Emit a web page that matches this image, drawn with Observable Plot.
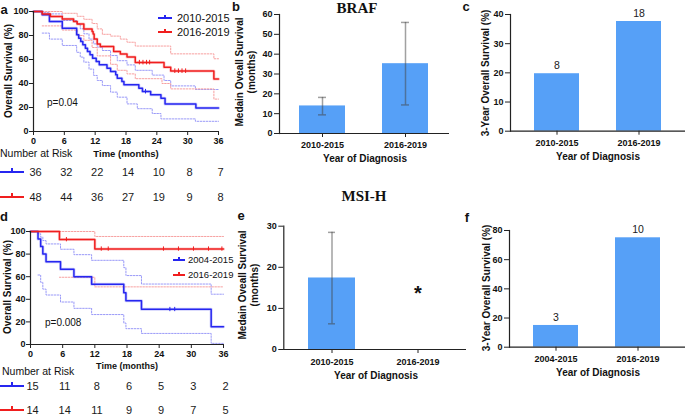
<!DOCTYPE html>
<html><head><meta charset="utf-8">
<script src="https://cdn.jsdelivr.net/npm/d3@7"></script>
<script src="https://cdn.jsdelivr.net/npm/@observablehq/plot@0.6"></script>
<style>
html,body{margin:0;padding:0;background:#fff;}
#fig{position:relative;width:685px;height:416px;overflow:hidden;font-family:"Liberation Sans",Arial,sans-serif;color:#111;background:#fff;}
#fig svg{position:absolute;overflow:visible;}
.t{position:absolute;white-space:nowrap;line-height:1;}
</style></head><body><div id="fig"></div>
<script>
// ---------------- data ----------------
const timeTicks = [0, 6, 12, 18, 24, 30, 36];
const survTicks = [0, 20, 40, 60, 80, 100];

// Panel a (BRAF) Kaplan-Meier
const brafGroups = ["2010-2015", "2016-2019"];
const brafEarlyT = [0, 1.7, 3.1, 5.6, 8.4, 8.8, 9.2, 9.6, 10.1, 10.5, 11.0, 11.5, 12.2, 12.8, 14.3, 15.0, 16.0, 16.3, 17.2, 17.6, 20.5, 21.2, 22.8, 24.8, 25.6, 31.6, 36];
const brafEarlyS = [100, 97.2, 91.7, 86.1, 80.6, 77.8, 75.0, 72.2, 69.4, 66.7, 63.9, 61.1, 58.3, 55.6, 52.8, 50.0, 47.2, 44.4, 41.7, 38.9, 36.1, 33.3, 30.6, 27.8, 22.9, 19.6, 19.6];
const brafEarlyUpT = [0, 1.7, 3.1, 5.6, 8.4, 9.1, 9.8, 10.8, 11.7, 12.4, 13.4, 15.0, 16.3, 18.2, 19.8, 23.1, 25.4, 26.7, 31.5, 36];
const brafEarlyUpS = [100, 99, 98, 92.5, 89.7, 85.6, 81.4, 77, 73, 70.3, 67.5, 63.3, 59, 55.5, 51, 47, 42.5, 38, 35, 35];
const brafEarlyLoT = [1.7, 3.1, 5.6, 8.4, 9.1, 9.8, 10.8, 11.7, 12.4, 13.4, 15.0, 16.3, 18.2, 20.2, 23.1, 24.8, 31.5, 36];
const brafEarlyLoS = [82, 77, 71.7, 66, 62, 57.8, 52, 46.7, 42.5, 38.3, 32.8, 28.6, 23, 19, 15, 10.5, 8.5, 8.5];
const brafLateT = [0, 1.7, 3.3, 5.6, 7.8, 8.5, 9.8, 11.4, 11.6, 11.8, 12.4, 13.0, 15.6, 16.9, 18.2, 19.8, 25.4, 26.7, 35.1, 36];
const brafLateS = [100, 97.9, 95.8, 93.8, 91.7, 89.6, 85.4, 83.3, 81.3, 77.1, 72.9, 70.8, 66.7, 64.6, 62.0, 57.5, 53.6, 50.4, 43.7, 43.7];
const brafLateUpT = [0, 5.6, 8.5, 9.8, 11.4, 12.4, 13.4, 15.0, 16.9, 18.2, 19.8, 26.7, 35.1, 36];
const brafLateUpS = [100, 98.5, 96, 93.5, 90, 85.5, 81, 79.5, 77, 74.4, 71.2, 64.7, 60.6, 60.6];
const brafLateLoT = [1.7, 5.6, 8.5, 9.8, 11.4, 12.4, 15.0, 16.3, 18.2, 19.8, 25.0, 26.7, 35.1, 36];
const brafLateLoS = [88, 84.5, 80, 76, 70, 63, 56, 51, 48, 44, 40, 35.5, 27, 27];
const brafEarlyCensor = [21.8];
const brafLateCensor = [20.6, 21.3, 22.0, 22.6, 27.5, 28.2, 28.9, 29.6];
const brafRiskEarly = [36, 32, 22, 14, 10, 8, 7];
const brafRiskLate = [48, 44, 36, 27, 19, 9, 8];

// Panel d (MSI-H) Kaplan-Meier
const msiGroups = ["2004-2015", "2016-2019"];
const msiEarlyT = [0, 1.4, 1.9, 2.3, 2.9, 5.6, 8.1, 11.4, 17.4, 17.8, 20.7, 33.7, 36];
const msiEarlyS = [100, 93.3, 86.7, 80, 73.3, 66.7, 60, 53.3, 45.7, 38.8, 31.1, 15.6, 15.6];
const msiEarlyUpT = [0, 1.4, 1.9, 2.3, 2.9, 5.6, 8.1, 11.4, 17.4, 17.8, 20.7, 33.7, 36];
const msiEarlyUpS = [100, 98, 95, 92, 89, 84.3, 79.5, 74.5, 68, 61, 53.5, 44.5, 44.5];
const msiEarlyLoT = [1.4, 1.9, 2.3, 2.9, 5.6, 8.1, 11.4, 17.4, 17.8, 20.7, 33.7, 36];
const msiEarlyLoS = [61.5, 55, 49, 43.8, 37.6, 32, 26.5, 19, 14, 9.8, 1, 1];
const msiLateT = [0, 5.4, 12.0, 36];
const msiLateS = [100, 92.9, 84.6, 84.6];
const msiLateUpT = [5.4, 12.0, 36];
const msiLateUpS = [100, 95.6, 95.6];
const msiLateLoT = [5.4, 12.0, 36];
const msiLateLoS = [59.5, 51, 51];
const msiEarlyCensor = [26.0, 26.9];
const msiLateCensor = [6.7, 13.2, 14.5, 24.8, 27.6, 30.4, 33.2, 35.7];
const msiRiskEarly = [15, 11, 8, 6, 5, 3, 2];
const msiRiskLate = [14, 14, 11, 9, 9, 7, 5];

// Panel b: median OS (BRAF)
const brafMedGroups = ["2010-2015", "2016-2019"];
const brafMedian = [13.9, 35.2];
const brafMedianLo = [9.4, 14.4];
const brafMedianHi = [18.2, 56.0];
// Panel c: 3-year OS (BRAF)
const braf3yr = [19.7, 37.6];
const braf3yrN = [8, 18];
// Panel e: median OS (MSI-H); 2016-2019 not reached
const msiMedGroups = ["2010-2015", "2016-2019"];
const msiMedian = [17.4, null];
const msiMedianLo = [6.25, null];
const msiMedianHi = [28.5, null];
// Panel f: 3-year OS (MSI-H)
const msi3yrGroups = ["2004-2015", "2016-2019"];
const msi3yr = [14.9, 75.0];
const msi3yrN = [3, 10];

// ---------------- styles ----------------
const BLUE = "#2626f0", RED = "#f01e1e";
const BLUE_CI = "#9a9af8", RED_CI = "#f7a0a0";
const BAR = "#56a0f7", AXIS = "#222";
const fig = document.getElementById("fig");
const baseStyle = {fontFamily: "'Liberation Sans', Arial, sans-serif", fontSize: "9px", fontWeight: "bold", color: "#111", background: "transparent", overflow: "visible"};

function place(svg, left, top) { svg.style.left = left + "px"; svg.style.top = top + "px"; fig.appendChild(svg); }
function txt(s, x, y, o = {}) {
  const d = document.createElement("div");
  d.className = "t";
  d.innerHTML = s;
  d.style.left = x + "px"; d.style.top = y + "px";
  d.style.fontSize = (o.size || 10) + "px";
  d.style.fontWeight = o.bold ? "bold" : "normal";
  if (o.family) d.style.fontFamily = o.family;
  if (o.lh) { d.style.lineHeight = o.lh + "px"; d.style.textAlign = "center"; }
  let tr = o.left ? "translate(0,-50%)" : "translate(-50%,-50%)";
  if (o.rot) tr += " rotate(-90deg)";
  d.style.transform = tr;
  fig.appendChild(d);
}
function swatch(x, y, w, color, lw) {
  const d = document.createElement("div");
  d.style.cssText = `position:absolute;left:${x}px;top:${y - lw / 2}px;width:${w}px;height:${lw}px;background:${color};`;
  const k = document.createElement("div");
  k.style.cssText = `position:absolute;left:${w / 2 - 0.6}px;top:-2.5px;width:1.3px;height:3px;background:${color};`;
  d.appendChild(k);
  fig.appendChild(d);
}
const rows = (ts, ss) => ts.map((t, i) => ({t, s: ss[i]}));
function survAt(ts, ss, t) { let v = ss[0]; ts.forEach((x, i) => { if (x <= t) v = ss[i]; }); return v; }

function km(o) {
  const marks = [];
  for (const c of o.cis) marks.push(Plot.line(rows(c.t, c.s), {x: "t", y: "s", curve: "step-after", stroke: c.color, strokeWidth: 1, strokeDasharray: "1.6,1.4"}));
  for (const c of o.curves) {
    marks.push(Plot.line(rows(c.t, c.s), {x: "t", y: "s", curve: "step-after", stroke: c.color, strokeWidth: 3, strokeOpacity: 0.22}));
    marks.push(Plot.line(rows(c.t, c.s), {x: "t", y: "s", curve: "step-after", stroke: c.color, strokeWidth: 1.5}));
    const cz = c.censor.map(t => ({t, s: survAt(c.t, c.s, t)}));
    marks.push(Plot.link(cz, {x1: "t", x2: "t", y1: d => d.s - 1.6, y2: d => d.s + 2.2, stroke: c.color, strokeWidth: 1}));
  }
  marks.push(Plot.ruleX([0], {stroke: AXIS, strokeWidth: 1.2}));
  marks.push(Plot.ruleY([0], {stroke: AXIS, strokeWidth: 1.2}));
  marks.push(Plot.axisX({ticks: timeTicks, tickSize: 4, tickPadding: 2, label: null, stroke: AXIS}));
  marks.push(Plot.axisY({ticks: survTicks, tickSize: 4, tickPadding: 1, label: null, stroke: AXIS}));
  const svg = Plot.plot({
    width: o.width, height: o.height, marginLeft: o.mL, marginRight: o.mR, marginTop: o.mT, marginBottom: o.mB,
    x: {domain: [0, 36]}, y: {domain: [0, 100]}, style: baseStyle, marks
  });
  place(svg, o.left, o.top);
  // number at risk table
  const rk = [];
  o.groups.forEach((g, gi) => timeTicks.forEach((t, i) => rk.push({t, g, n: o.risk[gi][i]})));
  const svg2 = Plot.plot({
    width: o.width, height: 50, marginLeft: o.mL, marginRight: o.mR, marginTop: o.riskMT, marginBottom: 50 - o.riskMT - o.riskGap,
    x: {domain: [0, 36], axis: null}, y: {type: "point", domain: o.groups, padding: 0, axis: null},
    style: baseStyle,
    marks: [Plot.text(rk, {x: "t", y: "g", text: "n", dx: 2, fontSize: 11, fontWeight: "normal", fill: "#1a1a1a"})]
  });
  place(svg2, o.left, o.riskTop);
}

function bars(o) {
  const data = o.groups.map((g, i) => ({g, v: o.vals[i], lo: o.lo ? o.lo[i] : null, hi: o.hi ? o.hi[i] : null, n: o.n ? o.n[i] : null}));
  const marks = [
    Plot.barY(data.filter(d => d.v != null), {x: "g", y: "v", fill: BAR}),
    Plot.ruleY([0], {stroke: AXIS, strokeWidth: 1.2}),
    Plot.frame({anchor: "left", stroke: AXIS, strokeWidth: 1.2}),
    Plot.axisX({tickSize: 4, tickPadding: o.xPad, label: null, stroke: AXIS}),
    Plot.axisY({ticks: o.yTicks, tickSize: 5, tickPadding: 2, label: null, stroke: AXIS})
  ];
  if (o.lo) {
    const e = data.filter(d => d.lo != null);
    marks.push(Plot.ruleX(e, {x: "g", y1: "lo", y2: "hi", stroke: "#444", strokeOpacity: 0.5, strokeWidth: 1.5}));
    marks.push(Plot.tickY(e, {x: "g", y: "hi", stroke: "#444", strokeOpacity: 0.5, strokeWidth: 1.5, insetLeft: o.capInset, insetRight: o.capInset}));
    marks.push(Plot.tickY(e, {x: "g", y: "lo", stroke: "#444", strokeOpacity: 0.5, strokeWidth: 1.5, insetLeft: o.capInset, insetRight: o.capInset}));
    const nr = data.filter(d => d.v == null);
    marks.push(Plot.text(nr, {x: "g", text: () => "*", frameAnchor: "middle", dy: 6, fontSize: 20, fontWeight: "bold", fill: "#111"}));
  }
  if (o.n) marks.push(Plot.text(data, {x: "g", y: "v", text: "n", dy: -8, fontSize: 10.5, fontWeight: "normal", fill: "#1a1a1a"}));
  const svg = Plot.plot({
    width: o.width, height: o.height, marginLeft: o.mL, marginRight: o.mR, marginTop: o.mT, marginBottom: o.mB,
    x: {type: "band", domain: o.groups, paddingInner: o.pi, paddingOuter: o.po},
    y: {domain: o.yDomain}, style: baseStyle, marks
  });
  place(svg, o.left, o.top);
}

// ---------------- panel a ----------------
km({left: 0, top: 0, width: 232, height: 150, mL: 33, mR: 14, mT: 11, mB: 19, riskTop: 160, riskMT: 12, riskGap: 25,
  groups: brafGroups, risk: [brafRiskEarly, brafRiskLate],
  cis: [{t: brafEarlyUpT, s: brafEarlyUpS, color: BLUE_CI}, {t: brafEarlyLoT, s: brafEarlyLoS, color: BLUE_CI},
        {t: brafLateUpT, s: brafLateUpS, color: RED_CI}, {t: brafLateLoT, s: brafLateLoS, color: RED_CI}],
  curves: [{t: brafEarlyT, s: brafEarlyS, color: BLUE, censor: brafEarlyCensor}, {t: brafLateT, s: brafLateS, color: RED, censor: brafLateCensor}]
});
txt("Overall Survival (%)", 9, 71, {bold: true, rot: true, size: 10});
txt("Time (months)", 126, 154, {bold: true, size: 9.5});
txt("Number at Risk", 0, 153, {left: true, size: 10.5});
txt("p=0.04", 47, 103, {left: true, size: 10});
swatch(158, 18, 14, BLUE, 2); txt(brafGroups[0], 177, 18, {left: true, size: 11});
swatch(158, 32, 14, RED, 2); txt(brafGroups[1], 177, 32, {left: true, size: 11});
swatch(0, 172, 24, BLUE, 2.4); swatch(0, 197, 24, RED, 2.4);

// ---------------- panel d ----------------
km({left: 0, top: 221, width: 232, height: 142, mL: 30, mR: 9, mT: 10, mB: 19, riskTop: 373, riskMT: 13, riskGap: 24,
  groups: msiGroups, risk: [msiRiskEarly, msiRiskLate],
  cis: [{t: msiEarlyUpT, s: msiEarlyUpS, color: BLUE_CI}, {t: msiEarlyLoT, s: msiEarlyLoS, color: BLUE_CI},
        {t: msiLateUpT, s: msiLateUpS, color: RED_CI}, {t: msiLateLoT, s: msiLateLoS, color: RED_CI}],
  curves: [{t: msiEarlyT, s: msiEarlyS, color: BLUE, censor: msiEarlyCensor}, {t: msiLateT, s: msiLateS, color: RED, censor: msiLateCensor}]
});
txt("Overall Survival (%)", 8, 287, {bold: true, rot: true, size: 10});
txt("Time (months)", 127, 366, {bold: true, size: 9});
txt("Number at Risk", 2, 371, {left: true, size: 10.5});
txt("p=0.008", 45, 323, {left: true, size: 10});
swatch(173, 260, 12, BLUE, 2); txt(msiGroups[0], 188, 260, {left: true, size: 9.5});
swatch(173, 275, 12, RED, 2); txt(msiGroups[1], 188, 275, {left: true, size: 9.5});
swatch(0, 386, 24, BLUE, 2.4); swatch(0, 410, 24, RED, 2.4);

// ---------------- panel b ----------------
bars({left: 230, top: 0, width: 225, height: 150, mL: 49, mR: 6, mT: 14, mB: 17, xPad: 4.5,
  groups: brafMedGroups, vals: brafMedian, lo: brafMedianLo, hi: brafMedianHi, capInset: 19,
  yDomain: [0, 60], yTicks: [0, 10, 20, 30, 40, 50, 60], pi: 0.444, po: 0.24});
txt("Medain Oveall Survival<br>(months)", 246, 72, {bold: true, rot: true, size: 10, lh: 11.7});
txt("Year of Diagnosis", 365, 159, {bold: true, size: 10});

// ---------------- panel c ----------------
bars({left: 455, top: 0, width: 230, height: 150, mL: 55, mR: 0, mT: 14, mB: 19.3, xPad: 4.5,
  groups: brafMedGroups, vals: braf3yr, n: braf3yrN,
  yDomain: [0, 40], yTicks: [0, 10, 20, 30, 40], pi: 0.449, po: 0.29});
txt("3-Year Overall Survival (%)", 486, 73, {bold: true, rot: true, size: 10});
txt("Year of Diagnosis", 598, 157, {bold: true, size: 10});

// ---------------- panel e ----------------
bars({left: 230, top: 200, width: 236, height: 165, mL: 53.3, mR: 0, mT: 25.7, mB: 16, xPad: 5,
  groups: msiMedGroups, vals: msiMedian, lo: msiMedianLo, hi: msiMedianHi, capInset: 20,
  yDomain: [0, 30], yTicks: [0, 10, 20, 30], pi: 0.45, po: 0.275});
txt("Medain Oveall Survival<br>(months)", 249, 285, {bold: true, rot: true, size: 10, lh: 11.7});
txt("Year of Diagnosis", 376, 376, {bold: true, size: 10});

// ---------------- panel f ----------------
bars({left: 455, top: 200, width: 230, height: 165, mL: 54, mR: 0, mT: 30, mB: 18.3, xPad: 4,
  groups: msi3yrGroups, vals: msi3yr, n: msi3yrN,
  yDomain: [0, 80], yTicks: [0, 20, 40, 60, 80], pi: 0.446, po: 0.296});
txt("3-Year Overall Survival (%)", 487, 288, {bold: true, rot: true, size: 10});
txt("Year of Diagnosis", 598, 373, {bold: true, size: 10});

// ---------------- titles & panel letters ----------------
const serif = "'Liberation Serif', 'Times New Roman', serif";
txt("BRAF", 357, 8, {bold: true, size: 15, family: serif});
txt("MSI-H", 364, 196, {bold: true, size: 15, family: serif});
txt("a", 4, 9, {bold: true, size: 13});
txt("b", 236, 6, {bold: true, size: 13});
txt("c", 466, 6, {bold: true, size: 13});
txt("d", 4, 216, {bold: true, size: 13});
txt("e", 241, 215, {bold: true, size: 13});
txt("f", 467, 217, {bold: true, size: 13});
</script></body></html>
